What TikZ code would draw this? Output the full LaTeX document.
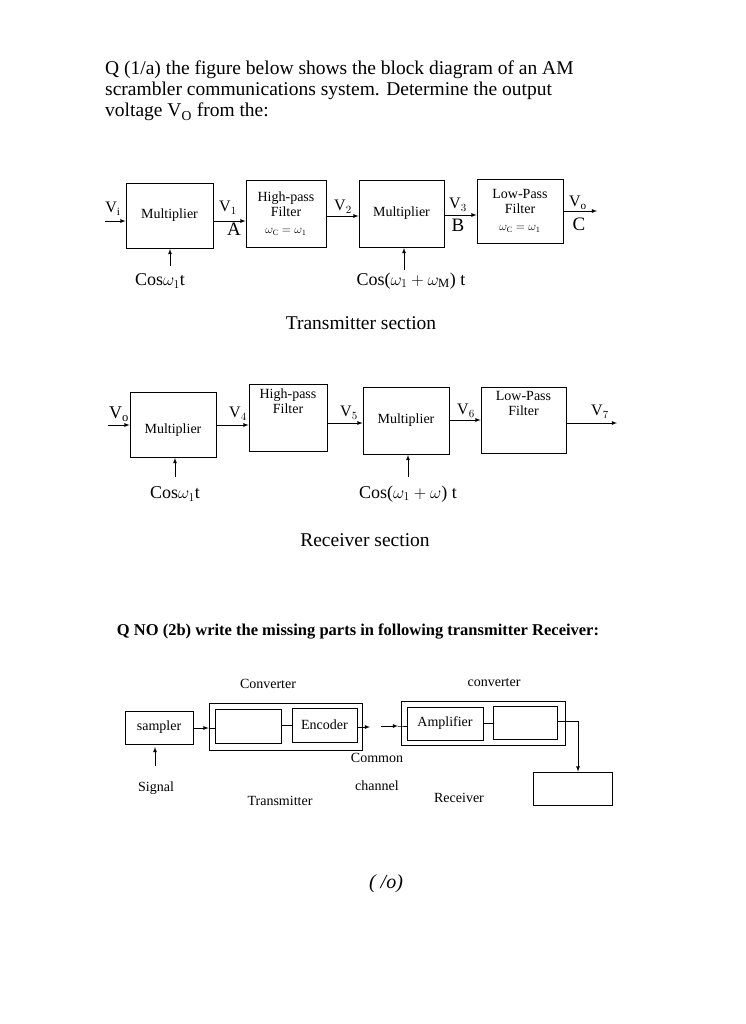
\documentclass[tikz,border=0pt]{standalone}
\usepackage{fontspec}
\setmainfont{Liberation Serif}
\begin{document}
\begin{tikzpicture}[x=1pt,y=-1pt,
 blk/.style={draw,thick,inner sep=0,align=center,font=\fontsize{14}{15}\selectfont},
 arr/.style={thick,-latex},
 lb/.style={font=\fontsize{16}{16}\selectfont,inner sep=0},
 big/.style={font=\fontsize{18}{18}\selectfont,inner sep=0},
 sm/.style={font=\fontsize{14}{14}\selectfont,inner sep=0}]
\fill[white] (0,0) rectangle (745,1024);
\useasboundingbox (0,0) rectangle (745,1024);
\node[anchor=north west,align=left,inner sep=0,font=\fontsize{19.5}{21}\selectfont] (q) at (105,61)
 {Q (1/a) the figure below shows the block diagram of an AM\\scrambler communications system. Determine the output\\voltage V$_\mathrm{O}$ from the:};
% transmitter
\node[blk,minimum width=87,minimum height=65] (m1) at (169.5,215.5) {Multiplier};
\node[blk,minimum width=80,minimum height=67] (h1) at (286,213.5) {High-pass\\Filter\\[2pt]{\fontsize{12}{12}\selectfont$\omega_\mathrm{C}=\omega_1$}};
\node[blk,minimum width=85,minimum height=67] (m2) at (401.5,213.5) {Multiplier};
\node[blk,minimum width=86,minimum height=64] (l1) at (520,211) {Low-Pass\\Filter\\[2pt]{\fontsize{12}{12}\selectfont$\omega_\mathrm{C}=\omega_1$}};
\coordinate (vin) at (105,221);
\coordinate (vout) at (597,211);
\draw[arr] (vin) -- (m1.west|-vin);
\draw[arr] (m1.east|-vin) -- (h1.west|-vin);
\draw[arr] (h1.east|-vin) ++(0,-5) coordinate (a2) -- (m2.west|-a2);
\draw[arr] (m2.east|-a2) ++(0,-1) coordinate (a3) -- (l1.west|-a3);
\draw[arr] (l1.east|-vout) -- (vout);
\node[lb] at (113,209) {V$_\mathrm{i}$};
\node[lb] at (228,208) {V$_1$};
\node[lb,font=\fontsize{19}{19}\selectfont] at (234,229) {A};
\node[lb] at (343,207) {V$_2$};
\node[lb] at (458,205) {V$_3$};
\node[lb,font=\fontsize{19}{19}\selectfont] at (458,225) {B};
\node[lb] at (578,203) {V$_\mathrm{o}$};
\node[lb,font=\fontsize{19}{19}\selectfont] at (579,224) {C};
\node[big] (c1) at (160,281) {Cos$\omega_1$t};
\node[big] (c2) at (411,281) {Cos($\omega_1+\omega_\mathrm{M}$) t};
\draw[arr] (170,266) -- (170,249);
\draw[arr] (404,270) -- (404,248);
\node[lb,font=\fontsize{19.5}{19.5}\selectfont] at (361,323) {Transmitter section};
% receiver
\node[blk,minimum width=86,minimum height=65] (m3) at (173,424.5) {\\[6pt]Multiplier};
\node[blk,minimum width=78,minimum height=67] (h2) at (288,418) {High-pass\\Filter\\[18pt]};
\node[blk,minimum width=86,minimum height=67] (m4) at (406,420.5) {Multiplier};
\node[blk,minimum width=85,minimum height=66] (l2) at (523.5,420) {Low-Pass\\Filter\\[18pt]};
\coordinate (rin) at (108,425);
\coordinate (rout) at (617,423);
\draw[arr] (rin) -- (m3.west|-rin);
\draw[arr] (m3.east|-rin) -- (h2.west|-rin);
\draw[arr] (h2.east|-rin) ++(0,-2) coordinate (b2) -- (m4.west|-b2);
\draw[arr] (m4.east|-b2) ++(0,-3) coordinate (b3) -- (l2.west|-b3);
\draw[arr] (l2.east|-rout) -- (rout);
\node[lb,font=\fontsize{18}{18}\selectfont] at (119,414) {V$_\mathrm{o}$};
\node[lb] at (238,414) {V$_4$};
\node[lb] at (349,413) {V$_5$};
\node[lb] at (466,411) {V$_6$};
\node[lb] at (600,412) {V$_7$};
\draw[arr] (175,477) -- (175,458);
\draw[arr] (408,477) -- (408,455);
\node[big] (c3) at (175,494) {Cos$\omega_1$t};
\node[big] (c4) at (408,494) {Cos($\omega_1+\omega$) t};
\node[lb,font=\fontsize{19.5}{19.5}\selectfont] at (365,540) {Receiver section};
\node[lb,font=\bfseries\fontsize{16.5}{16.5}\selectfont] at (358,632) {Q NO (2b) write the missing parts in following transmitter Receiver:};
% bottom
\node[blk,minimum width=68,minimum height=33] (sam) at (159,727.5) {sampler};
\node[draw,thick,minimum width=153,minimum height=47,inner sep=0] (tx) at (285.5,726.5) {};
\node[blk,minimum width=66,minimum height=34] (e1) at (248,726) {};
\node[blk,minimum width=65,minimum height=34] (enc) at (324.5,725) {Encoder};
\node[draw,thick,minimum width=164,minimum height=44,inner sep=0] (rx) at (483,723) {};
\node[blk,minimum width=76,minimum height=33] (amp) at (445,723.5) {Amplifier};
\node[blk,minimum width=64,minimum height=33] (d1) at (525,722.5) {};
\node[blk,minimum width=79,minimum height=33] (out) at (572.5,788.5) {};
\draw[arr] (sam.east|-0,728) -- (tx.west|-0,728);
\draw[thick] (tx.west|-0,728) -- (e1.west|-0,728);
\draw (e1.east|-0,725) -- (enc.west|-0,725);
\coordinate (ch1) at (370,727);
\coordinate (ch2) at (384,726);
\draw[arr] (enc.east|-ch1) -- (ch1);
\draw[arr] (ch2) ++(-3,0) -- (398,726);
\draw (398,726) -- (rx.west|-0,726) -- (amp.west|-0,726);
\draw (amp.east|-0,723) -- (d1.west|-0,723);
\draw[arr] (d1.east|-0,721) -- (578,721) -- (out.north-|578,0);
\draw[arr] (155,766) -- (155,747);
\node[sm] at (268,684) {Converter};
\node[sm] at (494,683) {converter};
\node[sm] at (377,758) {Common};
\node[sm] at (377,786) {channel};
\node[sm] at (156,788) {Signal};
\node[sm] at (280,801) {Transmitter};
\node[sm] at (459,798) {Receiver};
\node[lb,font=\fontsize{20}{20}\selectfont\itshape] at (386,884) {( /o)};
\end{tikzpicture}
\end{document}
